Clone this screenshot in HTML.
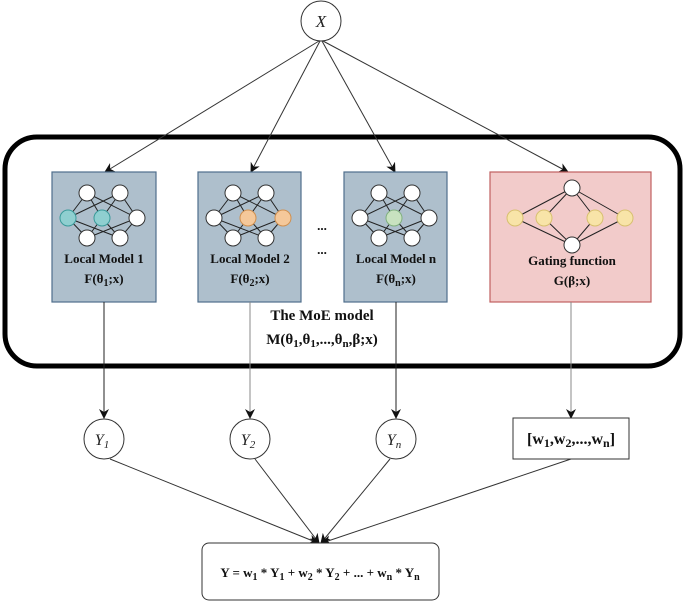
<!DOCTYPE html>
<html><head><meta charset="utf-8"><style>
html,body{margin:0;padding:0;background:#fff;}
svg{display:block;}
.b{font-family:"Liberation Serif",serif;font-weight:bold;fill:#111;}
.i{font-family:"Liberation Serif",serif;font-style:italic;fill:#222;}
</style></head><body>
<svg width="685" height="602" viewBox="0 0 685 602" xmlns="http://www.w3.org/2000/svg">
<defs>
<marker id="a" markerWidth="10" markerHeight="10" refX="9" refY="5" orient="auto" markerUnits="userSpaceOnUse"><path d="M0,0 L10,5 L0,10 L3,5 Z" fill="#111"/></marker>
</defs>
<rect x="5" y="137" width="675" height="229" rx="32" fill="none" stroke="#000" stroke-width="5"/>
<ellipse cx="321" cy="21" rx="20" ry="20" fill="#fff" stroke="#333"/>
<text x="321" y="27" class="i" font-size="17" text-anchor="middle">X</text>
<g stroke="#333" stroke-width="1" marker-end="url(#a)">
<line x1="319" y1="41" x2="105" y2="172"/>
<line x1="320" y1="41" x2="251" y2="172"/>
<line x1="322" y1="41" x2="395" y2="172"/>
<line x1="323" y1="41" x2="568" y2="172"/>
</g>
<rect x="52" y="172" width="104" height="130" fill="#aebfcc" stroke="#4f6f8c" stroke-width="1.2"/>
<rect x="198" y="172" width="103" height="130" fill="#aebfcc" stroke="#4f6f8c" stroke-width="1.2"/>
<rect x="344" y="172" width="103" height="130" fill="#aebfcc" stroke="#4f6f8c" stroke-width="1.2"/>
<rect x="490" y="172" width="161" height="130" fill="#f2cbca" stroke="#c06060" stroke-width="1.2"/>
<g stroke="#222" stroke-width="1">
<g id="n1">
<path d="M87,193 L68,218 M87,193 L102,218 M87,193 L137,218 M120,193 L68,218 M120,193 L102,218 M120,193 L137,218 M68,218 L87,238 M102,218 L87,238 M102,218 L120,238 M137,218 L120,238 M68,218 L120,238 M137,218 L87,238"/>
</g>
<use href="#n1" x="146"/>
<use href="#n1" x="292"/>
<path d="M572,188 L515,218 M572,188 L544,218 M572,188 L595,218 M572,188 L625,218 M515,218 L572,245 M544,218 L572,245 M595,218 L572,245 M625,218 L572,245"/>
</g>
<g stroke="#333" stroke-width="1">
<circle cx="87" cy="193" r="8" fill="#fff"/><circle cx="120" cy="193" r="8" fill="#fff"/>
<circle cx="68" cy="218" r="8" fill="#8fcfd0" stroke="#3a9a9a"/><circle cx="102" cy="218" r="8" fill="#8fcfd0" stroke="#3a9a9a"/><circle cx="137" cy="218" r="8" fill="#fff"/>
<circle cx="87" cy="238" r="8" fill="#fff"/><circle cx="120" cy="238" r="8" fill="#fff"/>
<circle cx="233" cy="193" r="8" fill="#fff"/><circle cx="266" cy="193" r="8" fill="#fff"/>
<circle cx="214" cy="218" r="8" fill="#fff"/><circle cx="248" cy="218" r="8" fill="#f5c89a" stroke="#d09050"/><circle cx="283" cy="218" r="8" fill="#f5c89a" stroke="#d09050"/>
<circle cx="233" cy="238" r="8" fill="#fff"/><circle cx="266" cy="238" r="8" fill="#fff"/>
<circle cx="379" cy="193" r="8" fill="#fff"/><circle cx="412" cy="193" r="8" fill="#fff"/>
<circle cx="360" cy="218" r="8" fill="#fff"/><circle cx="394" cy="218" r="8" fill="#c8e2c0" stroke="#80b080"/><circle cx="429" cy="218" r="8" fill="#fff"/>
<circle cx="379" cy="238" r="8" fill="#fff"/><circle cx="412" cy="238" r="8" fill="#fff"/>
<circle cx="572" cy="188" r="8" fill="#fff"/>
<circle cx="515" cy="218" r="8" fill="#f8e4a8" stroke="#d8c070"/><circle cx="544" cy="218" r="8" fill="#f8e4a8" stroke="#d8c070"/><circle cx="595" cy="218" r="8" fill="#f8e4a8" stroke="#d8c070"/><circle cx="625" cy="218" r="8" fill="#f8e4a8" stroke="#d8c070"/>
<circle cx="572" cy="245" r="8" fill="#fff"/>
</g>
<g class="b" font-size="13" text-anchor="middle">
<text x="104" y="263">Local Model 1</text>
<text x="104" y="283">F(θ<tspan font-size="10" dy="3">1</tspan><tspan dy="-3">;x)</tspan></text>
<text x="250" y="263">Local Model 2</text>
<text x="250" y="283">F(θ<tspan font-size="10" dy="3">2</tspan><tspan dy="-3">;x)</tspan></text>
<text x="396" y="263">Local Model n</text>
<text x="396" y="283">F(θ<tspan font-size="10" dy="3">n</tspan><tspan dy="-3">;x)</tspan></text>
<text x="572" y="265">Gating function</text>
<text x="572" y="285">G(β;x)</text>
</g>
<text x="322" y="230" class="b" font-size="13" text-anchor="middle">...</text>
<text x="322" y="254" class="b" font-size="13" text-anchor="middle">...</text>
<g stroke-width="1" marker-end="url(#a)">
<line x1="104" y1="302" x2="104" y2="418" stroke="#222"/>
<line x1="250" y1="302" x2="250" y2="418" stroke="#888"/>
<line x1="396" y1="302" x2="396" y2="418" stroke="#222"/>
<line x1="571" y1="302" x2="571" y2="418" stroke="#888"/>
</g>
<g class="b" font-size="15" text-anchor="middle">
<text x="322" y="320">The MoE model</text>
<text x="322" y="344">M(θ<tspan font-size="11" dy="3">1</tspan><tspan dy="-3">,θ</tspan><tspan font-size="11" dy="3">1</tspan><tspan dy="-3">,...,θ</tspan><tspan font-size="11" dy="3">n</tspan><tspan dy="-3">,β;x)</tspan></text>
</g>
<g fill="#fff" stroke="#333">
<circle cx="104" cy="439" r="20"/><circle cx="250" cy="439" r="20"/><circle cx="396" cy="439" r="20"/>
<rect x="513" y="418" width="116" height="41"/>
</g>
<g class="i" font-size="16" text-anchor="middle">
<text x="102" y="445">Y<tspan font-size="11" dy="3">1</tspan></text>
<text x="248" y="445">Y<tspan font-size="11" dy="3">2</tspan></text>
<text x="394" y="445">Y<tspan font-size="11" dy="3">n</tspan></text>
</g>
<text x="571" y="444" class="b" font-size="16" text-anchor="middle">[w<tspan font-size="12" dy="3">1</tspan><tspan dy="-3">,w</tspan><tspan font-size="12" dy="3">2</tspan><tspan dy="-3">,...,w</tspan><tspan font-size="12" dy="3">n</tspan><tspan dy="-3">]</tspan></text>
<g stroke="#333" stroke-width="1" marker-end="url(#a)">
<line x1="110" y1="459" x2="318" y2="543"/>
<line x1="255" y1="459" x2="319" y2="543"/>
<line x1="390" y1="459" x2="321" y2="543"/>
<line x1="571" y1="459" x2="322" y2="543"/>
</g>
<rect x="202" y="543" width="237" height="57" rx="7" fill="#fff" stroke="#333"/>
<text x="320" y="577" class="b" font-size="13" text-anchor="middle">Y = w<tspan font-size="10" dy="3">1</tspan><tspan dy="-3"> * Y</tspan><tspan font-size="10" dy="3">1</tspan><tspan dy="-3"> + w</tspan><tspan font-size="10" dy="3">2</tspan><tspan dy="-3"> * Y</tspan><tspan font-size="10" dy="3">2</tspan><tspan dy="-3"> + ... + w</tspan><tspan font-size="10" dy="3">n</tspan><tspan dy="-3"> * Y</tspan><tspan font-size="10" dy="3">n</tspan></text>
</svg>
</body></html>
